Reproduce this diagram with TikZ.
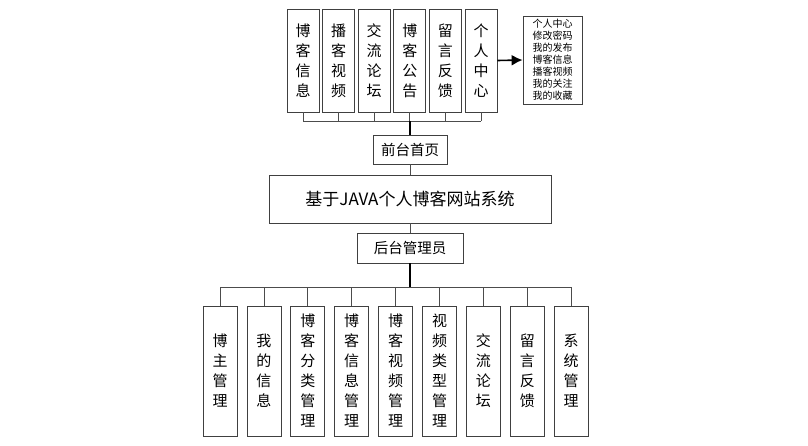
\documentclass[tikz,border=0pt]{standalone}
\usepackage{fontspec}
\setmainfont{Noto Sans CJK SC}
\usetikzlibrary{arrows.meta}
\begin{document}
\begin{tikzpicture}[x=1pt,y=-1pt,
  box/.style={draw=black!75,line width=.8pt,fill=white,inner sep=0pt,align=center},
  vbox/.style={box,minimum width=32,minimum height=103,font=\fontsize{15}{20}\selectfont},
  lbox/.style={box,minimum width=34,minimum height=130,font=\fontsize{15}{20}\selectfont},
  link/.style={draw=black!70,line width=.7pt},
  trunk/.style={draw=black,line width=1.6pt}]
\useasboundingbox (0,0) rectangle (808,445);
% front-end modules
\foreach \i/\txt in {1/博\\客\\信\\息,2/播\\客\\视\\频,3/交\\流\\论\\坛,4/博\\客\\公\\告,5/留\\言\\反\\馈,6/个\\人\\中\\心}{
\node[vbox] (t\i) at ({303+35.6*(\i-1)},60.5) {\txt};
}
\node[box,minimum width=59,minimum height=88,font=\fontsize{10}{12}\selectfont] (side) at (552.5,60)
  {个人中心\\修改密码\\我的发布\\博客信息\\播客视频\\我的关注\\我的收藏};
\draw[trunk,-{Latex[length=11pt,width=11pt]}] (t6.east) -- (side.west);
\node[box,minimum width=74,minimum height=29,font=\fontsize{14.5}{16}\selectfont] (front) at (410,149.5) {前台首页};
\node[box,minimum width=282,minimum height=48,font=\fontsize{17}{20}\selectfont] (sys) at (410,199) {基于JAVA个人博客网站系统};
\node[box,minimum width=106,minimum height=30,font=\fontsize{14.5}{16}\selectfont] (admin) at (410,248) {后台管理员};
\coordinate (topbus) at (410,121);
\coordinate (lowbus) at (410,287);
\foreach \i in {1,...,6}{
\draw[link] (t\i.south) -- (t\i.south |- topbus);
}
\draw[link] (t1.south |- topbus) -- (t6.south |- topbus);
\draw[trunk] (topbus) -- (front.north);
\draw[link] (front.south) -- (sys.north);
\draw[link] (sys.south) -- (admin.north);
\draw[trunk] (admin.south) -- (lowbus);
% back-end modules
\foreach \i/\txt in {1/博\\主\\管\\理,2/我\\的\\信\\息,3/博\\客\\分\\类\\管\\理,4/博\\客\\信\\息\\管\\理,5/博\\客\\视\\频\\管\\理,6/视\\频\\类\\型\\管\\理,7/交\\流\\论\\坛,8/留\\言\\反\\馈,9/系\\统\\管\\理}{
\node[lbox] (b\i) at ({220+43.9*(\i-1)},371) {\txt};
\draw[link] (b\i.north) -- (b\i.north |- lowbus);
}
\draw[link] (b1.north |- lowbus) -- (b9.north |- lowbus);
\end{tikzpicture}
\end{document}
